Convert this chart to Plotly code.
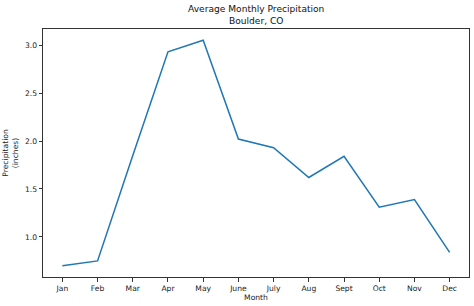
import plotly.graph_objects as go

months = ["Jan", "Feb", "Mar", "Apr", "May", "June", "July", "Aug", "Sept", "Oct", "Nov", "Dec"]
precip = [0.70, 0.75, 1.85, 2.93, 3.05, 2.02, 1.93, 1.62, 1.84, 1.31, 1.39, 0.84]
y_ticks = [1.0, 1.5, 2.0, 2.5, 3.0]
y_tick_labels = ["1.0", "1.5", "2.0", "2.5", "3.0"]
title_lines = ["Average Monthly Precipitation", "Boulder, CO"]

FONT = "DejaVu Sans"
LBL = 7.6
TTL = 9.1

fig = go.Figure()
fig.add_trace(go.Scatter(
    x=list(range(len(months))), y=precip, mode="lines",
    line=dict(color="#1f77b4", width=1.5),
))

ymin, ymax = min(precip), max(precip)
pad = (ymax - ymin) * 0.05
n = len(months)

axis_common = dict(
    showline=True, linecolor="#333333", linewidth=1, mirror=True,
    showgrid=False, zeroline=False, automargin=False,
    ticks="outside", ticklen=3.5, tickcolor="#333333", tickwidth=1,
    tickfont=dict(family=FONT, size=LBL, color="#222222"),
)

fig.update_xaxes(
    range=[-0.55, n - 1 + 0.55],
    tickvals=list(range(n)), ticktext=months,
    title=dict(text="Month", font=dict(family=FONT, size=LBL, color="#222222"), standoff=2),
    **axis_common,
)
fig.update_yaxes(
    range=[ymin - pad, ymax + pad],
    tickvals=y_ticks, ticktext=y_tick_labels,
    title=dict(text="Precipitation<br>(inches)", font=dict(family=FONT, size=LBL, color="#222222"), standoff=5),
    **axis_common,
)

for i, line in enumerate(title_lines):
    fig.add_annotation(
        text=line, xref="paper", yref="paper", x=0.5, y=1,
        xanchor="center", yanchor="bottom", showarrow=False,
        yshift=1 + (len(title_lines) - 1 - i) * 11.5,
        font=dict(family=FONT, size=TTL, color="#111111"),
    )

fig.update_layout(
    width=474, height=306,
    margin=dict(l=43, r=5, t=29, b=29),
    paper_bgcolor="white", plot_bgcolor="white",
    showlegend=False,
)

fig.write_html("out.html")
